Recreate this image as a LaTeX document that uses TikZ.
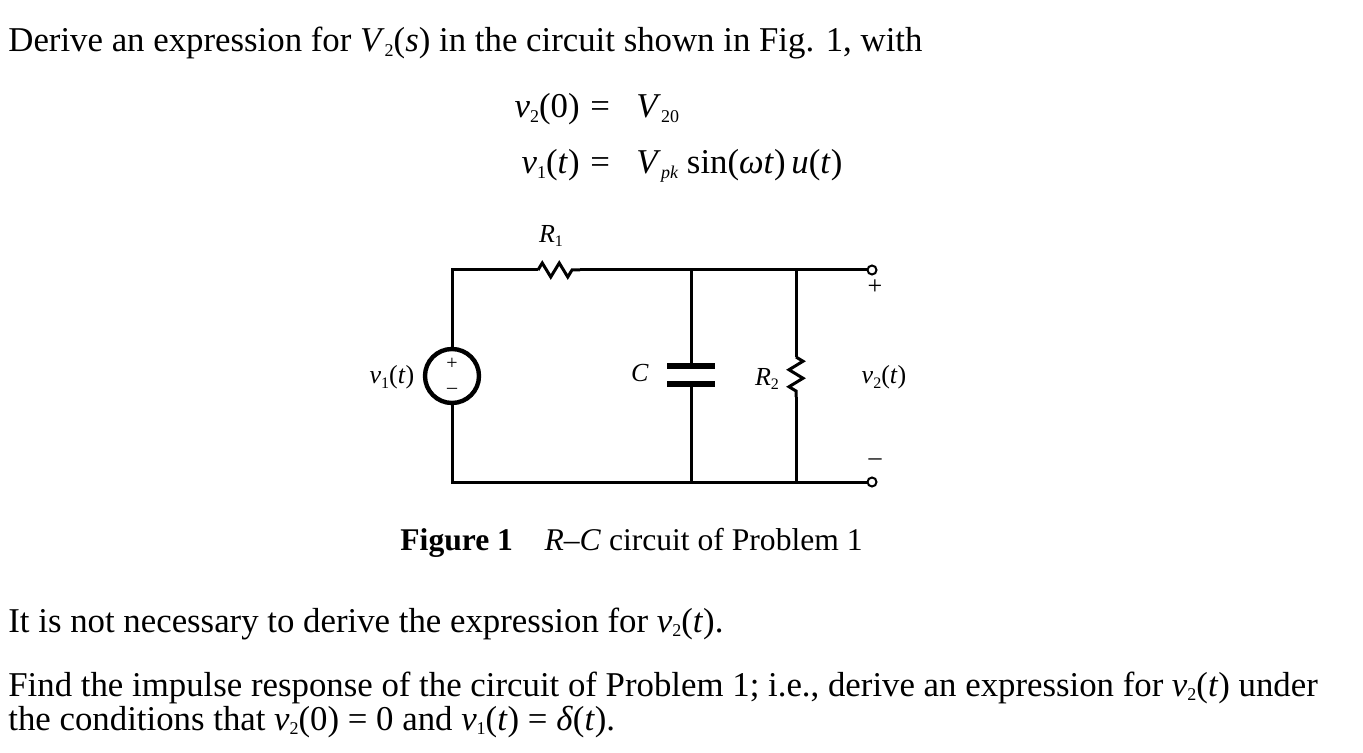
\documentclass[tikz,border=0pt]{standalone}
\usepackage{fontspec}
\setmainfont{Liberation Serif}
\usetikzlibrary{decorations.pathmorphing}
\begin{document}
\begin{tikzpicture}[x=0.5pt,y=-0.5pt,
  txt/.style={anchor=base west,inner sep=0,font=\fontsize{17.4}{20}\selectfont},
  lbl/.style={inner sep=0,font=\fontsize{13}{15}\selectfont},
  sgn/.style={inner sep=0,font=\fontsize{10}{12}\selectfont},
  wire/.style={line width=1.5pt},
  zig/.style={wire,decorate,decoration={zigzag,segment length=8.5pt,amplitude=3.5pt}}]
\useasboundingbox (0,0) rectangle (1363,753);
\node[txt] (t1) at (8,52) {Derive an expression for \textit{V}\raisebox{-0.3ex}{\small 2}(\textit{s}) in the circuit shown in Fig. 1, with};
\node[txt,anchor=base east] (e1l) at (580,118) {\textit{v}\raisebox{-0.3ex}{\small 2}(0)};
\node[txt] (e1m) at (590,118) {=};
\node[txt] (e1r) at (636,118) {\textit{V}\raisebox{-0.3ex}{\small 20}};
\node[txt,anchor=base east] (e2l) at (580,174) {\textit{v}\raisebox{-0.3ex}{\small 1}(\textit{t})};
\node[txt] (e2m) at (590,174) {=};
\node[txt] (e2r) at (636,174) {\textit{V}\raisebox{-0.3ex}{\small\textit{pk}} sin(\textit{ω}\textit{t})\,\textit{u}(\textit{t})};
% circuit
\coordinate (tl) at (452,270); \coordinate (bl) at (452,482);
\coordinate (r1a) at (538,270); \coordinate (r1b) at (580,270);
\coordinate (ct) at (691,270); \coordinate (cb) at (691,482);
\coordinate (rt) at (796,270); \coordinate (rb) at (796,482);
\coordinate (r2a) at (796,357); \coordinate (r2b) at (796,397);
\node[circle,draw,line width=2.2pt,minimum size=27pt,inner sep=0] (src) at (452,376) {};
\node[sgn] (sp) at (452,364) {+};
\node[sgn] (sm) at (452,391) {--};
\node[circle,draw,line width=1pt,fill=white,minimum size=4.5pt,inner sep=0] (tp) at (872,270) {};
\node[circle,draw,line width=1pt,fill=white,minimum size=4.5pt,inner sep=0] (tm) at (872,482) {};
\draw[wire] (src.north) -- (tl) -- (r1a);
\draw[zig] (r1a) -- (r1b);
\draw[wire] (r1b) -- (tp.west);
\draw[wire] (src.south) -- (bl) -- (tm.west);
\draw[wire] (ct) -- (691,366);
\draw[wire] (691,384) -- (cb);
\draw[line width=2.8pt] (667,366) -- (715,366);
\draw[line width=2.8pt] (667,384) -- (715,384);
\draw[wire] (rt) -- (r2a);
\draw[zig] (r2a) -- (r2b);
\draw[wire] (r2b) -- (rb);
\node[lbl] (lr1) at (551,236) {\textit{R}\raisebox{-0.4ex}{\footnotesize 1}};
\node[lbl] (lv1) at (392,377) {\textit{v}\raisebox{-0.4ex}{\footnotesize 1}(\textit{t})};
\node[lbl] (lc) at (640,373) {\textit{C}};
\node[lbl] (lr2) at (767,379) {\textit{R}\raisebox{-0.4ex}{\footnotesize 2}};
\node[lbl] (lv2) at (884,377) {\textit{v}\raisebox{-0.4ex}{\footnotesize 2}(\textit{t})};
\node[lbl] (pp) at (875,287) {+};
\node[lbl] (pm) at (875,462) {--};
\node[anchor=base west,inner sep=0,font=\fontsize{15.8}{18}\selectfont] (cap) at (400,550) {\textbf{Figure 1}\hspace{1em}\textit{R}–\textit{C} circuit of Problem 1};
\node[txt] (t2) at (8,632) {It is not necessary to derive the expression for \textit{v}\raisebox{-0.3ex}{\small 2}(\textit{t}).};
\node[txt] (t3) at (8,696) {Find the impulse response of the circuit of Problem 1; i.e., derive an expression for \textit{v}\raisebox{-0.3ex}{\small 2}(\textit{t}) under};
\node[txt] (t4) at (8,730) {the conditions that \textit{v}\raisebox{-0.3ex}{\small 2}(0) = 0 and \textit{v}\raisebox{-0.3ex}{\small 1}(\textit{t}) = \textit{δ}(\textit{t}).};
\end{tikzpicture}
\end{document}
